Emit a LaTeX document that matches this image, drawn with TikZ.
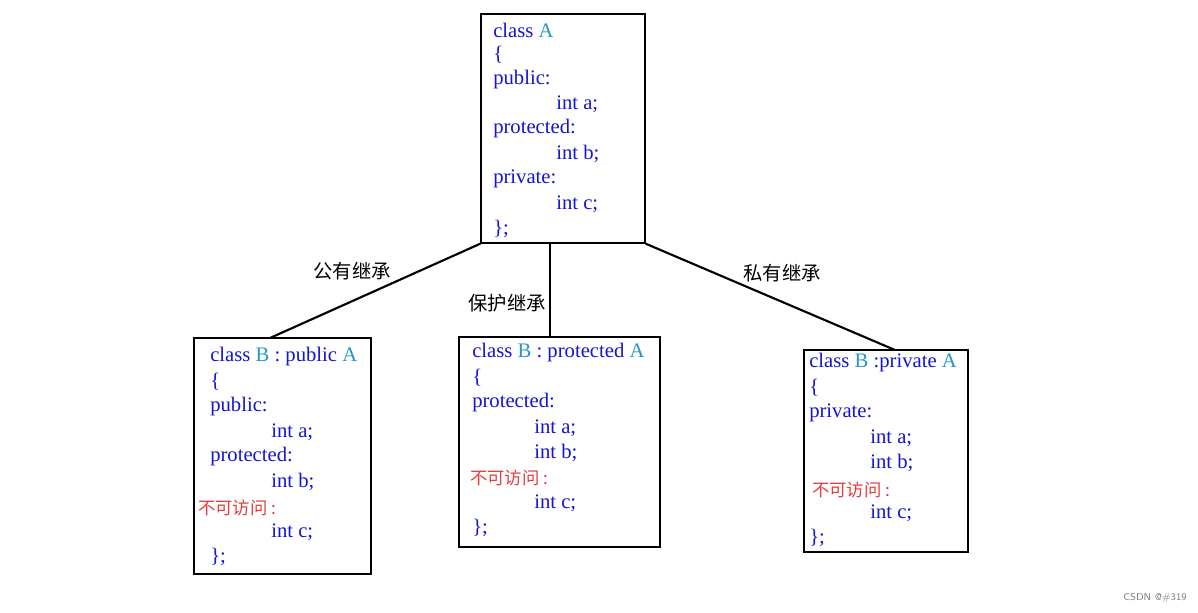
\documentclass[tikz,border=0pt]{standalone}
\usepackage{fontspec}
\setmainfont{Liberation Serif}
\newfontfamily\cjk{Noto Sans CJK SC}
\definecolor{kw}{RGB}{20,20,210}
\definecolor{cn}{RGB}{40,150,200}
\definecolor{rd}{RGB}{230,60,60}
\begin{document}
\begin{tikzpicture}[x=0.75pt,y=-0.75pt,
  box/.style={draw,line width=1pt},
  t/.style={anchor=west,inner sep=0,text=kw,font=\fontsize{15.5}{16}\selectfont},
  na/.style={anchor=west,inner sep=0,text=rd,font=\cjk\fontsize{13}{14}\selectfont},
  lab/.style={inner sep=0,font=\cjk\fontsize{14.5}{16}\selectfont},
  conn/.style={line width=1.6pt}]
\useasboundingbox[fill=white] (0,0) rectangle (1198,612);
% A
\node[box,minimum width=123pt,minimum height=171.75pt,inner sep=0] (A) at (563,128.5) {};
\node[t] (a1) at (493,30) {class \textcolor{cn}{A}};
\node[t] (a2) at (493,55) {\{};
\node[t] (a3) at (493,80) {public:};
\node[t] (a4) at (556,104) {int a;};
\node[t] (a5) at (493,129) {protected:};
\node[t] (a6) at (556,154) {int b;};
\node[t] (a7) at (493,179) {private:};
\node[t] (a8) at (556,204) {int c;};
\node[t] (a9) at (493,229) {\};};
% B1
\node[box,minimum width=132.75pt,minimum height=177pt,inner sep=0] (B1) at (282.5,456) {};
\node[t] at (210,357) {class \textcolor{cn}{B} : public \textcolor{cn}{A}};
\node[t] at (210,382) {\{};
\node[t] at (210,407) {public:};
\node[t] at (271,432) {int a;};
\node[t] at (210,457) {protected:};
\node[t] at (271,482) {int b;};
\node[na] at (198,508) {不可访问 :};
\node[t] at (271,532) {int c;};
\node[t] at (210,557) {\};};
% B2
\node[box,minimum width=150.75pt,minimum height=157.5pt,inner sep=0] (B2) at (559.5,442) {};
\node[t] at (472,353) {class \textcolor{cn}{B} : protected \textcolor{cn}{A}};
\node[t] at (472,378) {\{};
\node[t] at (472,403) {protected:};
\node[t] at (534,428) {int a;};
\node[t] at (534,453) {int b;};
\node[na] at (470,478) {不可访问 :};
\node[t] at (534,503) {int c;};
\node[t] at (472,528) {\};};
% B3
\node[box,minimum width=123pt,minimum height=151.5pt,inner sep=0] (B3) at (886,451) {};
\node[t] at (809,363) {class \textcolor{cn}{B} :private \textcolor{cn}{A}};
\node[t] at (809,388) {\{};
\node[t] at (809,413) {private:};
\node[t] at (870,438) {int a;};
\node[t] at (870,463) {int b;};
\node[na] at (812,490) {不可访问 :};
\node[t] at (870,513) {int c;};
\node[t] at (809,538) {\};};
% connectors
\coordinate (p1) at (270,338);
\coordinate (p2) at (550,337);
\coordinate (p3) at (895,350);
\draw[conn] (A.south west) -- (p1);
\draw[conn] (A.south west -| p2) -- (p2);
\draw[conn] (A.south east) -- (p3);
\node[lab] (l1) at (352,271) {公有继承};
\node[lab] (l2) at (507,303) {保护继承};
\node[lab] (l3) at (782,273) {私有继承};
\node[inner sep=0,text=gray,font=\fontsize{7.5}{8}\selectfont\sffamily] (wm) at (1155,598) {CSDN @\#319};
\end{tikzpicture}
\end{document}
